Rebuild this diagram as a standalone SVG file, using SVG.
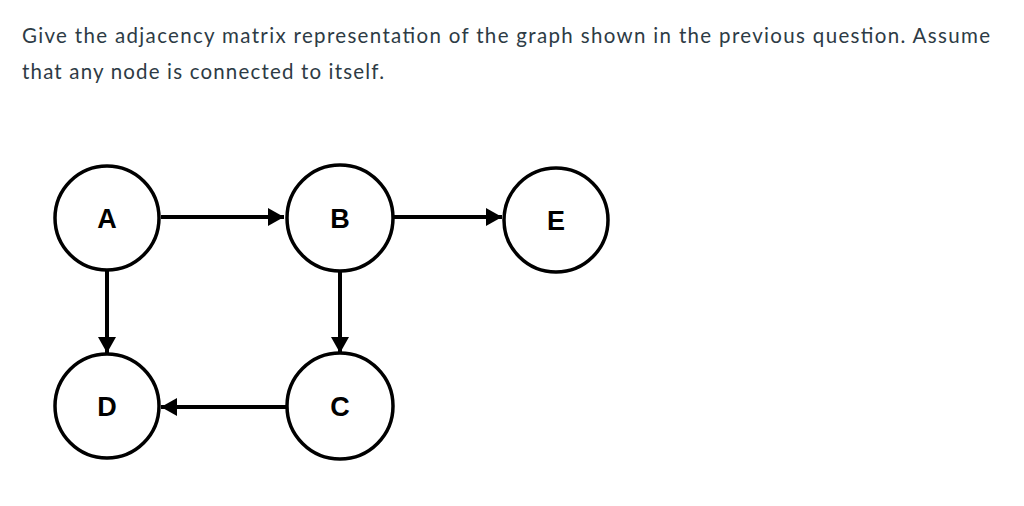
<svg xmlns="http://www.w3.org/2000/svg" width="1024" height="506" viewBox="0 0 1024 506">
<style>
.q{font-family:Lato,"Open Sans",sans-serif;font-size:20.5px;fill:#2d3b45}
.n circle{fill:#fff;stroke:#000;stroke-width:3.5}
.n text{font-family:"Liberation Sans",Arial,sans-serif;font-weight:bold;font-size:27px;text-anchor:middle;fill:#000}
.e line{stroke:#000;stroke-width:4}
</style>
<defs><marker id="ar" markerUnits="userSpaceOnUse" markerWidth="16" markerHeight="18" refX="16" refY="9" orient="auto"><path d="M0,0L16,9L0,18Z" fill="#000"/></marker></defs>
<rect width="1024" height="506" fill="#fff"/>
<text class="q" x="22" y="43" textLength="968">Give the adjacency matrix representation of the graph shown in the previous question. Assume</text>
<text class="q" x="22" y="79" textLength="362">that any node is connected to itself.</text>
<g class="e">
<line x1="161" y1="217" x2="284" y2="217" marker-end="url(#ar)"/>
<line x1="394" y1="217" x2="502" y2="217" marker-end="url(#ar)"/>
<line x1="107" y1="270" x2="107" y2="353" marker-end="url(#ar)"/>
<line x1="340" y1="270" x2="340" y2="353" marker-end="url(#ar)"/>
<line x1="287" y1="407" x2="161" y2="407" marker-end="url(#ar)"/>
</g>
<g id="A" class="n"><circle cx="107" cy="218" r="52"/><text x="107" y="228">A</text></g>
<g id="B" class="n"><circle cx="340" cy="218" r="53"/><text x="340" y="228">B</text></g>
<g id="E" class="n"><circle cx="556" cy="220" r="52"/><text x="556" y="230">E</text></g>
<g id="D" class="n"><circle cx="107" cy="406" r="52"/><text x="107" y="416">D</text></g>
<g id="C" class="n"><circle cx="340" cy="406" r="53"/><text x="340" y="416">C</text></g>
</svg>
